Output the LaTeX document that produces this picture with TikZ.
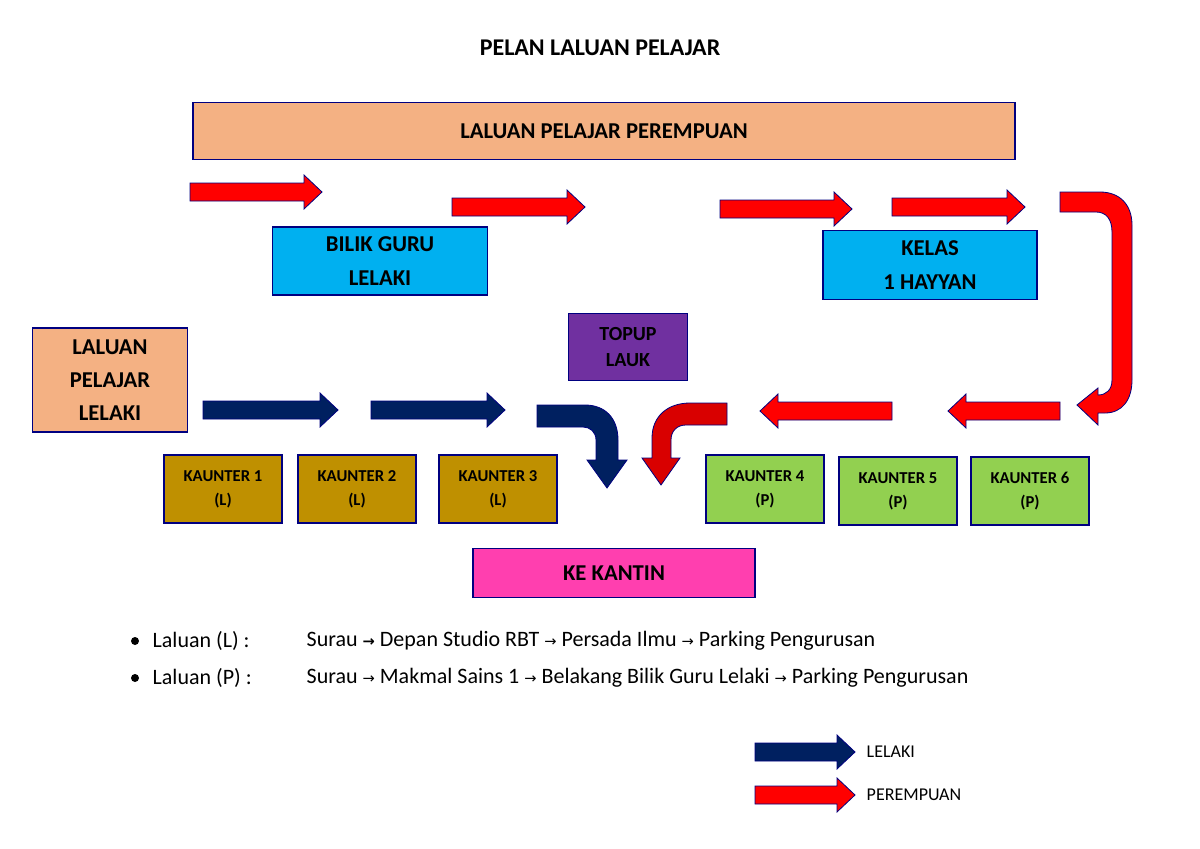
\documentclass[tikz,border=0pt]{standalone}
\usepackage{fontspec}
\setmainfont{Carlito}
\begin{document}
\begin{tikzpicture}[x=0.75pt,y=-0.75pt,
 box/.style={draw=blue!50!black,line width=0.8pt,align=center,font=\fontsize{17}{21}\selectfont\bfseries},
 redar/.style={fill=red,draw=blue!50!black,line width=0.6pt},
 bluar/.style={fill=navy,draw=blue!50!black,line width=0.6pt}]
\definecolor{navy}{HTML}{002060}
\definecolor{peach}{HTML}{F4B183}\definecolor{cyanb}{HTML}{00B0F0}\definecolor{purp}{HTML}{7030A0}
\definecolor{gold}{HTML}{BF9000}\definecolor{lgreen}{HTML}{92D050}\definecolor{pink2}{HTML}{FF3FAF}
\useasboundingbox[fill=white] (0,0) rectangle (1200,849);
\newcommand{\rarr}[4]{\draw[#4] (#1,#3-9) -- (#2-18,#3-9) -- (#2-18,#3-17) -- (#2,#3) -- (#2-18,#3+17) -- (#2-18,#3+9) -- (#1,#3+9) -- cycle;}
\newcommand{\larr}[4]{\draw[#4] (#1,#3-9) -- (#2+18,#3-9) -- (#2+18,#3-17) -- (#2,#3) -- (#2+18,#3+17) -- (#2+18,#3+9) -- (#1,#3+9) -- cycle;}
\node[font=\fontsize{18}{22}\selectfont\bfseries] (t) at (600,48) {PELAN LALUAN PELAJAR};
\node[box,fill=peach,minimum width=822*0.75pt,minimum height=57*0.75pt] (p) at (604,131) {LALUAN PELAJAR PEREMPUAN};
\node[box,fill=cyanb,minimum width=215*0.75pt,minimum height=68*0.75pt,font=\fontsize{17}{25}\selectfont\bfseries] (bg) at (380,261) {BILIK GURU\\LELAKI};
\node[box,fill=cyanb,minimum width=214*0.75pt,minimum height=69*0.75pt,font=\fontsize{17}{25}\selectfont\bfseries] (k) at (930,265) {KELAS\\1 HAYYAN};
\node[box,fill=peach,minimum width=155*0.75pt,minimum height=104*0.75pt,font=\fontsize{17}{25}\selectfont\bfseries,text width=100pt] (ll) at (110,380) {LALUAN\\PELAJAR\\LELAKI};
\node[box,fill=purp,minimum width=119*0.75pt,minimum height=67*0.75pt,font=\fontsize{15}{20}\selectfont\bfseries] (tl) at (628,347) {TOPUP\\LAUK};
\foreach \n/\x/\y/\c/\t in {k1/223/489/gold/{KAUNTER 1\\(L)},k2/357/489/gold/{KAUNTER 2\\(L)},k3/498/489/gold/{KAUNTER 3\\(L)},k4/765/489/lgreen/{KAUNTER 4\\(P)},k5/898/491/lgreen/{KAUNTER 5\\(P)},k6/1030/491/lgreen/{KAUNTER 6\\(P)}}
 \node[box,fill=\c,minimum width=118*0.75pt,minimum height=68*0.75pt,font=\fontsize{12.5}{18}\selectfont\bfseries] (\n) at (\x,\y) {\t};
\node[box,fill=pink2,minimum width=282*0.75pt,minimum height=49*0.75pt] (kk) at (614,573) {KE KANTIN};
\rarr{190}{322}{192}{redar}
\rarr{452}{585}{207}{redar}
\rarr{720}{852}{209}{redar}
\rarr{892}{1025}{207}{redar}
\larr{1060}{948}{411}{redar}
\larr{892}{760}{411}{redar}
\rarr{203}{338}{410}{bluar}
\rarr{371}{505}{410}{bluar}
\draw[bluar] (537,405) -- (585,405) .. controls (605,405) and (618,418) .. (618,440) -- (618,460) -- (627,460) -- (607,488) -- (587,460) -- (596,460) -- (596,440) .. controls (596,432) and (590,427) .. (583,427) -- (537,427) -- cycle;
\draw[redar,fill=red!85!black] (727,403) -- (690,403) .. controls (668,403) and (652,416) .. (652,438) -- (652,458) -- (642,458) -- (661,485) -- (680,458) -- (671,458) -- (671,440) .. controls (671,431) and (677,425) .. (686,425) -- (727,425) -- cycle;
\draw[redar] (1060,192) -- (1100,192) .. controls (1120,192) and (1132,205) .. (1132,225) -- (1132,380) .. controls (1132,400) and (1122,413) .. (1105,413) -- (1098,413) -- (1098,425) -- (1077,405) -- (1098,388) -- (1098,395) .. controls (1106,395) and (1112,390) .. (1112,380) -- (1112,232) .. controls (1112,219) and (1106,212) .. (1096,212) -- (1060,212) -- cycle;
\fill (135,641) circle (4);\fill (135,678) circle (4);
\begin{scope}[every node/.style={anchor=west,font=\fontsize{16.5}{20}\selectfont}]
\node (l1) at (148,641) {Laluan (L) :};
\node (l2) at (148,678) {Laluan (P) :};
\node (r1) at (302,641) {Surau \textbf{\fontspec{DejaVu Sans}\fontsize{11}{12}\selectfont→} Depan Studio RBT {\fontspec{DejaVu Sans}\fontsize{11}{12}\selectfont→} Persada Ilmu {\fontspec{DejaVu Sans}\fontsize{11}{12}\selectfont→} Parking Pengurusan};
\node (r2) at (302,678) {Surau {\fontspec{DejaVu Sans}\fontsize{11}{12}\selectfont→} Makmal Sains 1 {\fontspec{DejaVu Sans}\fontsize{11}{12}\selectfont→} Belakang Bilik Guru Lelaki {\fontspec{DejaVu Sans}\fontsize{11}{12}\selectfont→} Parking Pengurusan};
\end{scope}
\rarr{755}{855}{752}{bluar}
\rarr{755}{855}{795}{redar}
\node[anchor=west,font=\fontsize{13.5}{16}\selectfont] (lg1) at (862,752) {LELAKI};
\node[anchor=west,font=\fontsize{13.5}{16}\selectfont] (lg2) at (862,795) {PEREMPUAN};
\end{tikzpicture}
\end{document}
